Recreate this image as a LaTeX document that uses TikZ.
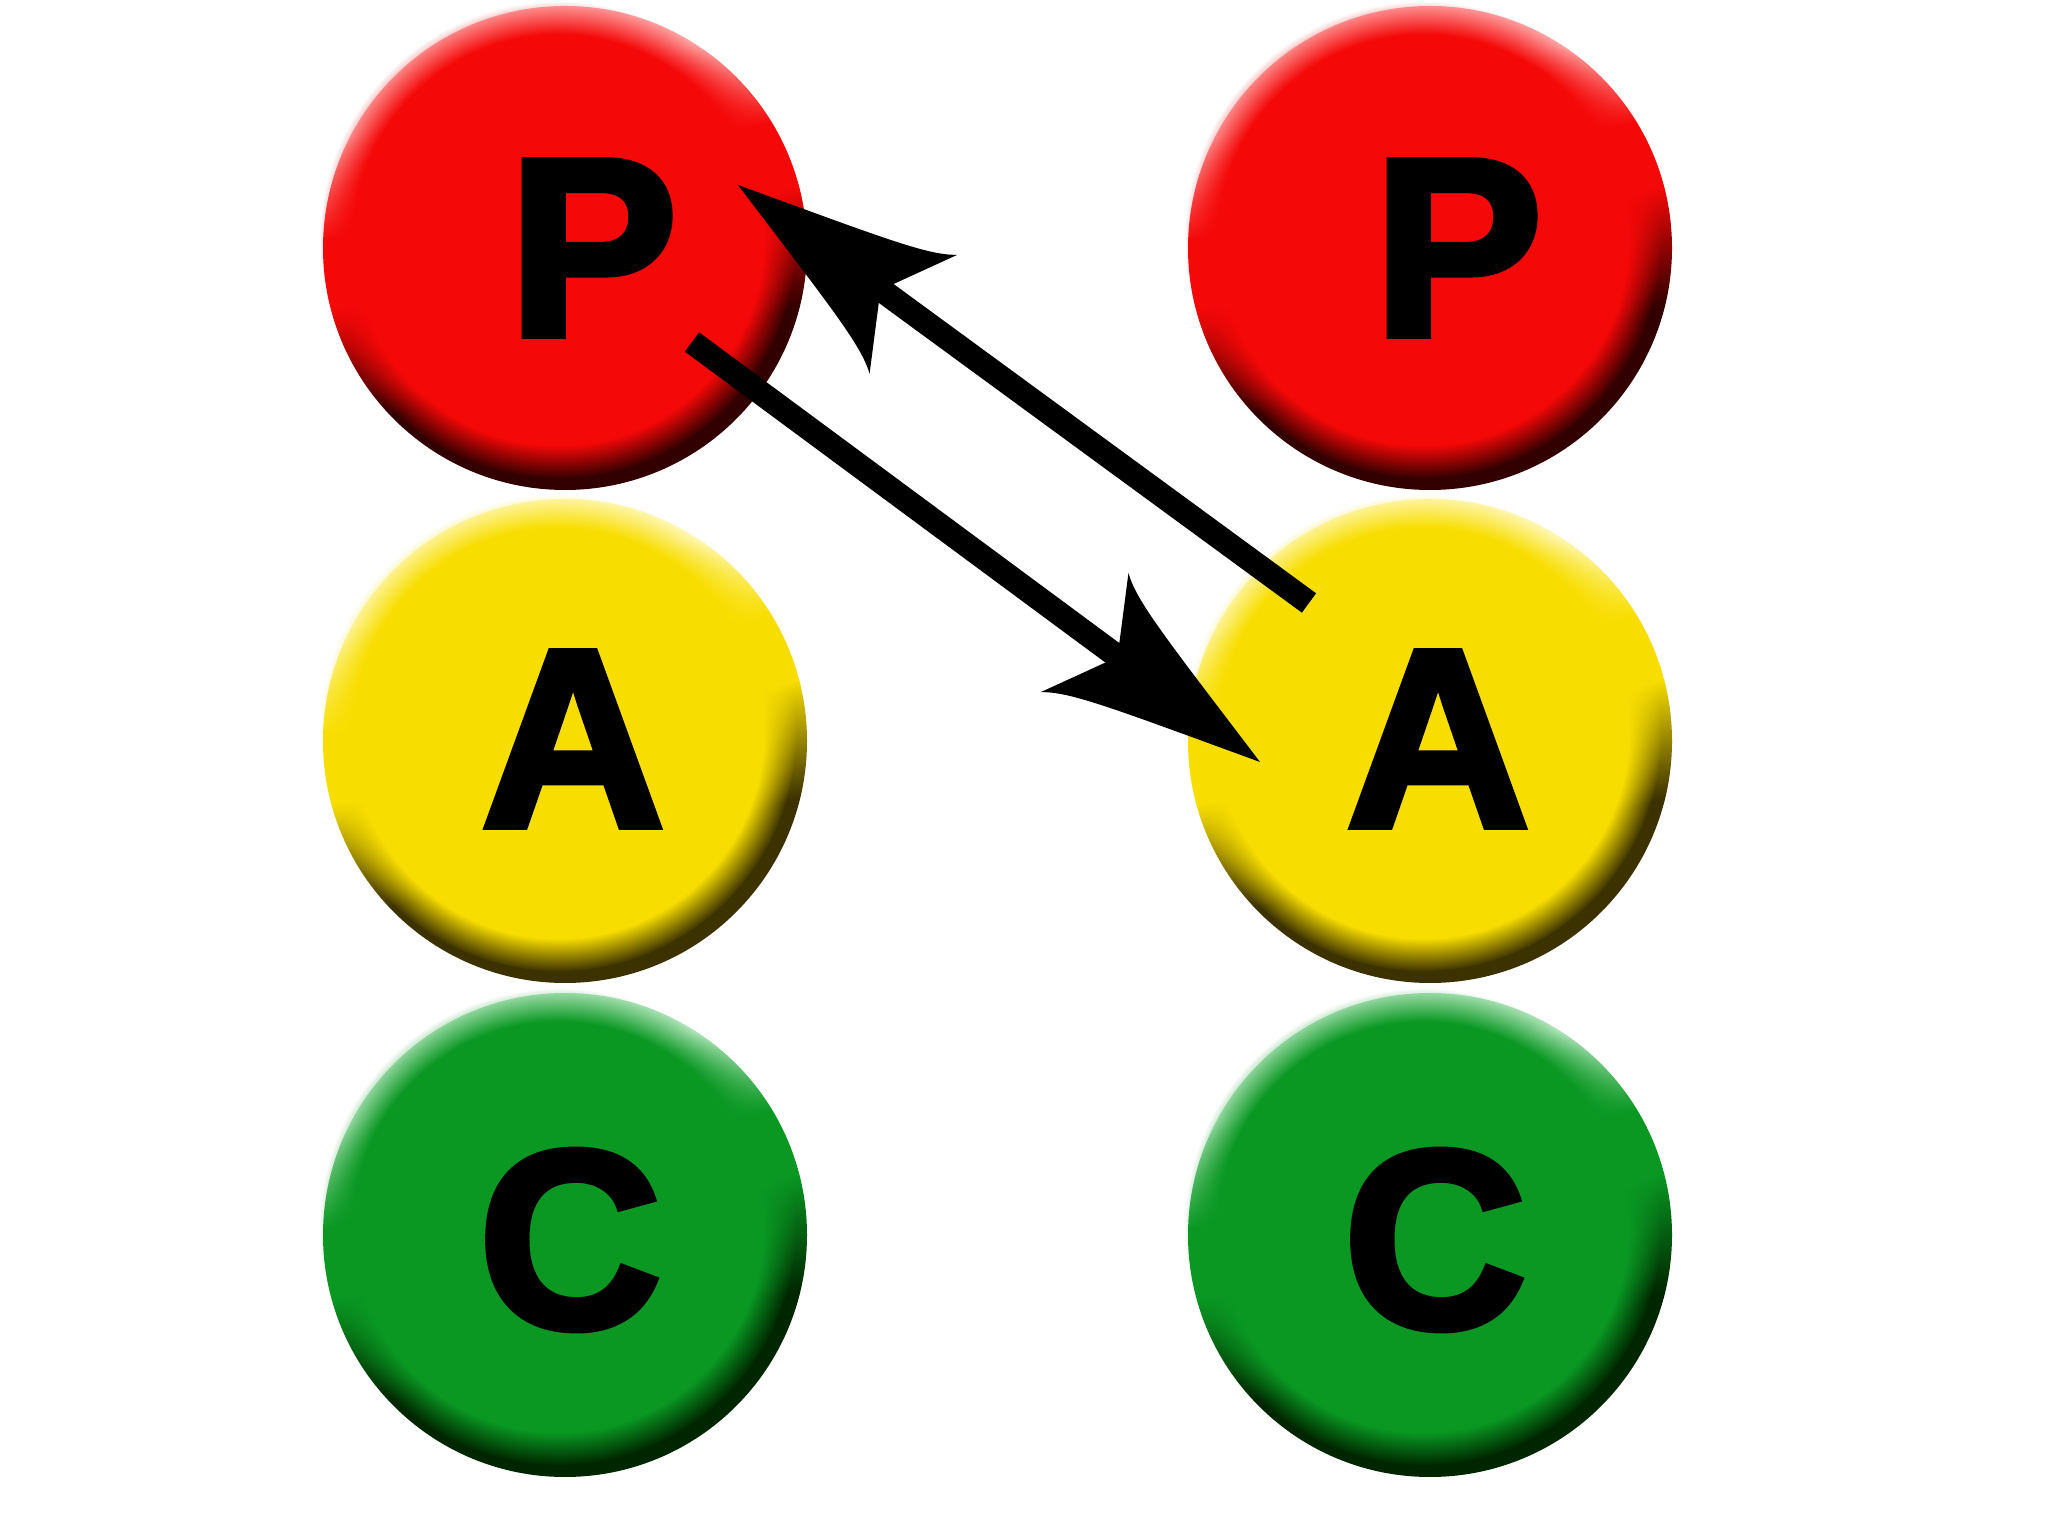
\documentclass[tikz,border=0pt]{standalone}
\usepackage{fontspec}
\setmainfont{Liberation Sans}
\newfontfamily\ballfont{Liberation Sans}[BoldFeatures={FakeBold=3}]
\usetikzlibrary{calc,fadings}
\definecolor{redbase}{RGB}{245,8,8}
\definecolor{redlight}{RGB}{255,165,165}
\definecolor{reddark}{RGB}{50,0,0}
\definecolor{yelbase}{RGB}{248,222,0}
\definecolor{yellight}{RGB}{255,248,185}
\definecolor{yeldark}{RGB}{60,50,0}
\definecolor{grnbase}{RGB}{10,152,35}
\definecolor{grnlight}{RGB}{175,228,185}
\definecolor{grndark}{RGB}{0,38,0}
\pgfdeclareverticalshading{redrim}{100bp}{color(0bp)=(reddark); color(38bp)=(reddark); color(50bp)=(redbase); color(57bp)=(redbase); color(67bp)=(redlight); color(100bp)=(redlight)}
\pgfdeclareverticalshading{yelrim}{100bp}{color(0bp)=(yeldark); color(38bp)=(yeldark); color(50bp)=(yelbase); color(57bp)=(yelbase); color(67bp)=(yellight); color(100bp)=(yellight)}
\pgfdeclareverticalshading{grnrim}{100bp}{color(0bp)=(grndark); color(38bp)=(grndark); color(50bp)=(grnbase); color(57bp)=(grnbase); color(67bp)=(grnlight); color(100bp)=(grnlight)}
\pgfdeclareradialshading{facefadeshade}{\pgfpointorigin}{color(0bp)=(pgftransparent!0); color(21.5bp)=(pgftransparent!0); color(25bp)=(pgftransparent!100); color(50bp)=(pgftransparent!100)}
\pgfdeclarefading{facefade}{\pgfuseshading{facefadeshade}}
\tikzset{
  ballnode/.style={circle, minimum size=484*0.01cm, inner sep=0pt},
  letter/.style={font=\fontsize{72}{72}\selectfont\ballfont\bfseries, text=black, inner sep=0pt},
  shaft/.style={draw=black, line width=24*0.01cm, line cap=butt},
  headfill/.style={fill=black}
}
% name, x, y, base, rimshading, letter, xshift, yshift
\newcommand{\mkball}[8]{%
  \shade[shading=#5, shading angle=15] (#2,#3) circle (242);
  \fill[#4, path fading=facefade] (#2-7,#3+8) circle (238);
  \node[ballnode] (#1) at (#2,#3) {};
  \node[letter] at ([xshift=#7*0.01cm, yshift=#8*0.01cm]#1.center) {#6};
}
% arrowhead at coordinate #1, rotated by #2
\newcommand{\mkhead}[2]{%
  \fill[headfill, shift={(#1)}, rotate=#2]
    (0,0) .. controls (-150,44) and (-195,56) .. (-218,74) -- (-177,0) -- (-218,-74)
    .. controls (-195,-56) and (-150,-44) .. cycle;
}
\begin{document}
\begin{tikzpicture}[x=0.01cm,y=0.01cm]
\useasboundingbox (0,0) rectangle (2048,1536);
\fill[white] (0,0) rectangle (2048,1536);
\mkball{lp}{565}{1288}{redbase}{redrim}{P}{28}{0}
\mkball{la}{565}{795}{yelbase}{yelrim}{A}{8}{2}
\mkball{lc}{565}{301}{grnbase}{grnrim}{C}{5}{-5}
\mkball{rp}{1430}{1288}{redbase}{redrim}{P}{28}{0}
\mkball{ra}{1430}{795}{yelbase}{yelrim}{A}{8}{2}
\mkball{rc}{1430}{301}{grnbase}{grnrim}{C}{5}{-5}
\coordinate (a1s) at (692,1194);
\coordinate (a1e) at (1260,774);
\coordinate (a2s) at (1309,933);
\coordinate (a2e) at (738,1351);
\draw[shaft] (a1s) -- ($(a1e)!1.7cm!(a1s)$);
\mkhead{a1e}{-36.4}
\draw[shaft] (a2s) -- ($(a2e)!1.7cm!(a2s)$);
\mkhead{a2e}{143.6}
\end{tikzpicture}
\end{document}
